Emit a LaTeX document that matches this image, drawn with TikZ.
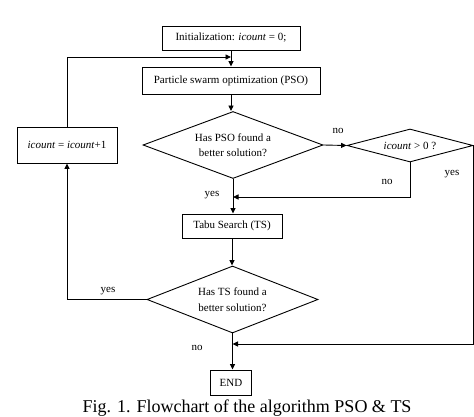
\documentclass[tikz,border=0pt]{standalone}
\usepackage{fontspec}
\setmainfont{Liberation Serif}
\usetikzlibrary{shapes.geometric,arrows.meta}
\begin{document}
\begin{tikzpicture}[x=1pt,y=-1pt,
  every node/.style={font=\fontsize{11}{13}\selectfont},
  procbox/.style={draw,line width=0.9pt,inner sep=0pt,align=center},
  decision/.style={draw,diamond,line width=0.9pt,inner sep=0pt,align=center,font=\fontsize{11}{15.5}\selectfont},
  lbl/.style={inner sep=0pt},
  flow/.style={line width=0.9pt,-{Triangle[length=5.5pt,width=5pt]}}]
\useasboundingbox (0,0) rectangle (474,417);
\node[procbox,minimum width=138pt,minimum height=24pt] (init) at (231,38) {Initialization: \textit{icount} = 0;};
\node[procbox,minimum width=178pt,minimum height=27pt] (pso) at (231,80.5) {Particle swarm optimization (PSO)};
\node[decision,minimum width=180pt,minimum height=67pt,aspect=2.69] (dpso) at (233,145) {Has PSO found a\\better solution?};
\node[procbox,minimum width=100pt,minimum height=36pt] (inc) at (67,145) {\textit{icount} = \textit{icount}+1};
\node[decision,minimum width=126pt,minimum height=33pt,aspect=3.8,font=\fontsize{11}{13}\selectfont] (dcnt) at (410,145.5) {\textit{icount} > 0 ?};
\node[procbox,minimum width=100pt,minimum height=24pt] (ts) at (232,226) {Tabu Search (TS)};
\node[decision,minimum width=171pt,minimum height=67pt,aspect=2.55] (dts) at (232.5,299.5) {Has TS found a\\better solution?};
\node[procbox,minimum width=41pt,minimum height=25pt] (end) at (231,382.5) {END};
\node[lbl,font=\fontsize{18}{21}\selectfont] (cap) at (247,408) {Fig. 1. Flowchart of the algorithm PSO \& TS};
% labels
\node[lbl] (lno1) at (338,131) {no};
\node[lbl] (lno2) at (387,182) {no};
\node[lbl] (lyes1) at (452,174) {yes};
\node[lbl] (lyes2) at (212,195) {yes};
\node[lbl] (lyes3) at (108,291) {yes};
\node[lbl] (lno3) at (197,348) {no};
% helper coordinates
\coordinate (jtop) at (init.south |- 0,57);
\coordinate (jmid) at (dpso.south |- 0,197);
\coordinate (jbot) at (dts.south |- 0,344);
% connectors
\draw[flow] (init.south) -- (init.south |- pso.north);
\draw[flow] (pso.south) -- (pso.south |- dpso.north);
\draw[flow] (dpso.east) -- (dcnt.west);
\draw[flow] (dpso.south) -- (dpso.south |- ts.north);
\draw[flow] (ts.south) -- (ts.south |- dts.north);
\draw[flow] (dts.south) -- (dts.south |- end.north);
\draw[flow] (dcnt.south) |- (jmid);
\draw[flow] (dcnt.east) |- (jbot);
\draw[flow] (dts.west) -| (inc.south);
\draw[flow] (inc.north) |- (jtop);
\end{tikzpicture}
\end{document}
